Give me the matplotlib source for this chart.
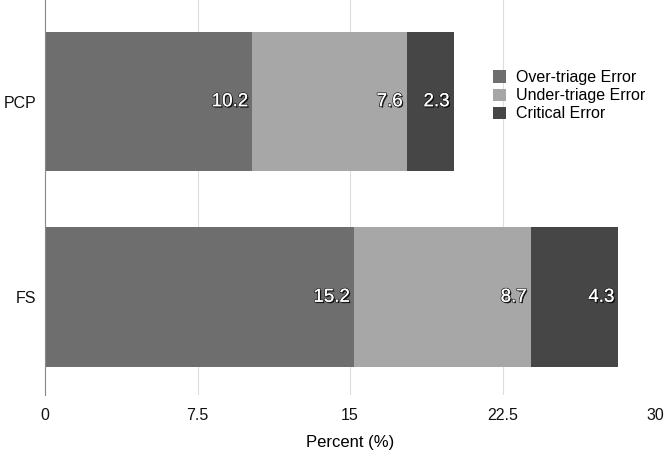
import numpy as np
import matplotlib
matplotlib.use('Agg')
import matplotlib.pyplot as plt
import matplotlib.patheffects as pe

plt.rcParams['font.family'] = ['Liberation Sans', 'DejaVu Sans']

# data
groups = ['FS', 'PCP']
series = ['Over-triage Error', 'Under-triage Error', 'Critical Error']
over_triage = [15.2, 10.2]
under_triage = [8.7, 7.6]
critical = [4.3, 2.3]
colors = ['#6e6e6e', '#a7a7a7', '#464646']

fig = plt.figure(figsize=(6.7, 4.58), dpi=100)
ax = fig.add_axes([45/670, 1-395/458, 610/670, 395/458])

y = np.arange(len(groups))
left = np.zeros(len(groups))
shadow = [pe.SimplePatchShadow(offset=(1, -1), shadow_rgbFace='black', alpha=0.9),
          pe.withStroke(linewidth=1.2, foreground='#222222'), pe.Normal()]
for name, vals, col in zip(series, [over_triage, under_triage, critical], colors):
    vals = np.array(vals)
    ax.barh(y, vals, left=left, height=0.714, color=col, label=name, zorder=2)
    for yi, l, v in zip(y, left, vals):
        ax.text(l + v - 0.2, yi, '%.1f' % v, ha='right', va='center', color='white',
                fontsize=13.5, path_effects=shadow, zorder=3)
    left = left + vals

ax.set_xlim(0, 30)
ax.set_ylim(-0.5, 1.52)
ax.set_xticks([0, 7.5, 15, 22.5, 30])
ax.set_xticklabels(['0', '7.5', '15', '22.5', '30'])
ax.set_yticks(y)
ax.set_yticklabels(groups)
ax.tick_params(length=0, labelsize=11.5, colors='#111111')
ax.tick_params(axis='x', pad=9)
ax.tick_params(axis='y', pad=6)
ax.grid(axis='x', color='#dddddd', linewidth=0.8, zorder=0)
for s in ['top', 'right', 'bottom']:
    ax.spines[s].set_visible(False)
ax.spines['left'].set_color('#888888')
ax.set_xlabel('Percent (%)', fontsize=12, labelpad=9)

handles, labels = ax.get_legend_handles_labels()
ax.legend(handles, labels, loc='upper left', bbox_to_anchor=(0.722, 0.843), frameon=False,
          fontsize=11.5, handlelength=0.8, handleheight=0.8, handletextpad=0.6,
          labelspacing=0.2, borderpad=0)

fig.savefig('out.png', dpi=100)
